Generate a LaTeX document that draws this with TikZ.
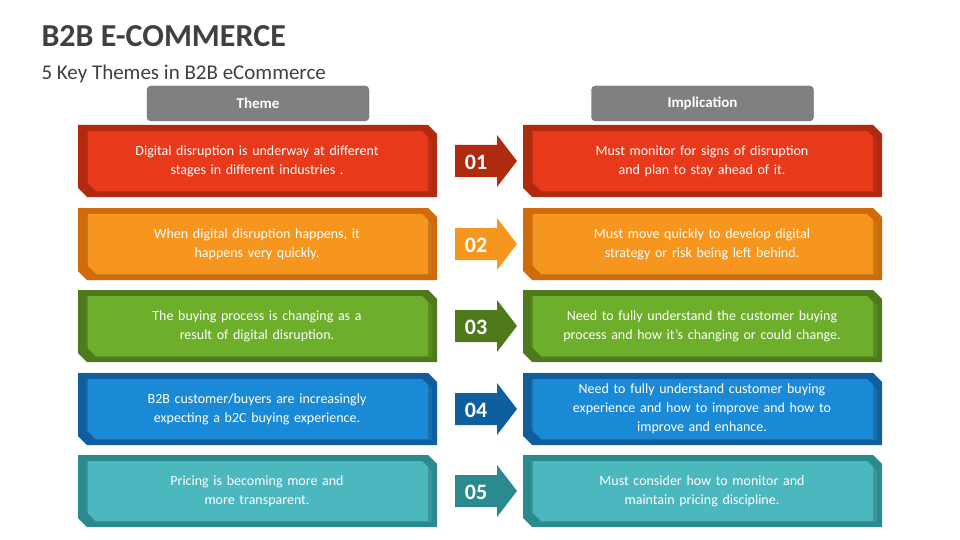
\documentclass[tikz,border=0pt]{standalone}
\usepackage{fontspec}
\setmainfont{Carlito}
\definecolor{r1}{HTML}{E8391A}\definecolor{r2}{HTML}{B02A10}
\definecolor{o1}{HTML}{F7961F}\definecolor{o2}{HTML}{D06A0A}
\definecolor{g1}{HTML}{6DAE2B}\definecolor{g2}{HTML}{4E7A1C}
\definecolor{b1}{HTML}{1B8AD6}\definecolor{b2}{HTML}{0F5E9E}
\definecolor{t1}{HTML}{4BB8C0}\definecolor{t2}{HTML}{2A8A8F}
\definecolor{hd}{HTML}{808080}\definecolor{ttl}{HTML}{404040}
\tikzset{hdr/.style={draw=ttl!80,fill=hd,rounded corners=4pt,minimum width=222pt,minimum height=35pt,text=white,font=\bfseries\fontsize{15}{18}\selectfont},
 txt/.style={text=white,align=center,font=\fontsize{14}{19}\selectfont,text width=300pt}}
\newcommand{\panel}[5]{% x y fill dark name
 \fill[#4] (#1,#2-36) -- (#1+350,#2-36) -- (#1+359,#2-27) -- (#1+359,#2+36) -- (#1+9,#2+36) -- (#1,#2+27) -- cycle;
 \fill[#3!80!black] (#1+8,#2-30) -- (#1+344,#2-30) -- (#1+354,#2-20) -- (#1+354,#2+31) -- (#1+18,#2+31) -- (#1+8,#2+21) -- cycle;
 \fill[#3] (#1+10,#2-30) -- (#1+344,#2-30) -- (#1+350,#2-24) -- (#1+350,#2+30) -- (#1+18,#2+30) -- (#1+10,#2+22) -- cycle;
 \node[txt] (#5) at (#1+179,#2) {};}
\begin{document}
\begin{tikzpicture}[x=1pt,y=-1pt]
\useasboundingbox (0,0) rectangle (960,540);
\node[anchor=west,text=ttl,font=\bfseries\fontsize{32}{36}\selectfont] (title) at (38,36) {B2B E-COMMERCE};
\node[anchor=west,text=ttl,font=\fontsize{21}{24}\selectfont] (sub) at (38,74) {5 Key Themes in B2B eCommerce};
\node[hdr] (h1) at (258,103.5) {Theme};
\node[hdr] (h2) at (702.5,103.5) {Implication};
\foreach \y/\fa/\da/\ac/\n/\ta/\tb in {
 161/r1/r2/r2/01/{Digital disruption is underway at different\\stages in different industries .}/{Must monitor for signs of disruption\\and plan to stay ahead of it.},
 244/o1/o2/o1/02/{When digital disruption happens, it\\happens very quickly.}/{Must move quickly to develop digital\\strategy or risk being left behind.},
 326/g1/g2/g2/03/{The buying process is changing as a\\result of digital disruption.}/{Need to fully understand the customer buying\\process and how it’s changing or could change.},
 409/b1/b2/b2/04/{B2B customer/buyers are increasingly\\expecting a b2C buying experience.}/{Need to fully understand customer buying\\experience and how to improve and how to\\improve and enhance.},
 491/t1/t2/t2/05/{Pricing is becoming more and\\more transparent.}/{Must consider how to monitor and\\maintain pricing discipline.}}{
 \panel{78}{\y}{\fa}{\da}{L\n}
 \panel{523}{\y}{\fa}{\da}{R\n}
 \node[txt] at (L\n) {\ta};
 \node[txt] at (R\n) {\tb};
 \fill[\ac] (455,\y-16) -- (497,\y-16) -- (497,\y-26) -- (517,\y) -- (497,\y+26) -- (497,\y+16) -- (455,\y+16) -- cycle;
 \node[text=white,font=\bfseries\fontsize{22}{24}\selectfont] (A\n) at (476,\y+1) {\n};
}
\end{tikzpicture}
\end{document}
